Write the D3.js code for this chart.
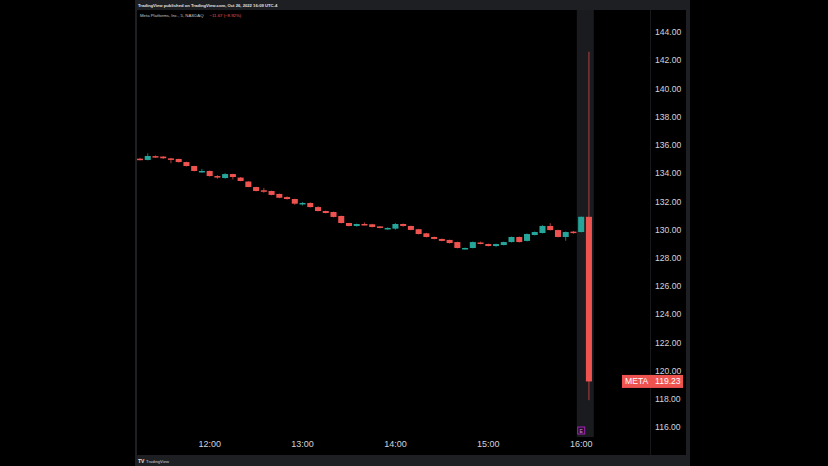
<!DOCTYPE html>
<html><head><meta charset="utf-8">
<script src="https://cdn.jsdelivr.net/npm/d3@7"></script>
<style>html,body{margin:0;padding:0;background:#000;overflow:hidden}svg{display:block}</style>
</head><body>
<svg id="c" width="828" height="466"></svg>
<script>
const times = ["11:15","11:20","11:25","11:30","11:35","11:40","11:45","11:50","11:55",
"12:00","12:05","12:10","12:15","12:20","12:25","12:30","12:35","12:40","12:45","12:50","12:55",
"13:00","13:05","13:10","13:15","13:20","13:25","13:30","13:35","13:40","13:45","13:50","13:55",
"14:00","14:05","14:10","14:15","14:20","14:25","14:30","14:35","14:40","14:45","14:50","14:55",
"15:00","15:05","15:10","15:15","15:20","15:25","15:30","15:35","15:40","15:45","15:50","15:55",
"16:00","16:05"];
const opens  = [135.02,134.93,135.20,135.17,135.04,135.00,134.78,134.50,134.10,134.15,133.79,133.65,133.93,133.68,133.40,133.01,132.78,132.73,132.52,132.30,132.16,131.82,131.88,131.59,131.31,131.24,130.96,130.46,130.25,130.39,130.37,130.22,130.06,130.06,130.39,130.25,130.02,129.73,129.47,129.33,129.26,129.11,128.64,128.69,129.08,128.97,128.83,128.90,129.11,129.47,129.19,129.61,129.75,130.25,129.96,129.47,129.85,129.82,130.90];
const highs  = [135.08,135.40,135.25,135.20,135.08,135.02,134.80,134.52,134.30,134.18,133.85,134.00,133.95,133.72,133.42,133.03,132.95,132.76,132.55,132.35,132.18,131.95,131.92,131.65,131.34,131.27,130.98,130.48,130.42,130.50,130.40,130.25,130.15,130.45,130.42,130.27,130.05,129.76,129.50,129.36,129.28,129.14,128.72,129.15,129.14,129.00,129.00,129.14,129.50,129.50,129.72,129.86,130.30,130.45,129.99,129.86,129.90,130.92,142.60];
const lows   = [134.90,134.90,135.10,135.00,134.70,134.75,134.47,134.12,134.02,133.75,133.60,133.60,133.55,133.42,133.00,132.70,132.60,132.42,132.22,132.12,131.75,131.70,131.56,131.28,131.14,130.86,130.43,130.22,130.20,130.30,130.15,130.08,129.98,129.98,130.20,129.94,129.65,129.44,129.30,129.16,129.00,128.66,128.58,128.66,128.95,128.80,128.75,128.87,129.08,129.08,129.15,129.58,129.72,129.93,129.44,129.20,129.70,129.80,117.90];
const closes = [134.95,135.21,135.14,135.05,134.98,134.78,134.50,134.15,134.15,133.79,133.68,133.93,133.72,133.44,133.01,132.73,132.72,132.45,132.25,132.16,131.83,131.88,131.59,131.31,131.17,130.89,130.46,130.25,130.39,130.33,130.18,130.11,130.11,130.39,130.25,129.97,129.68,129.47,129.33,129.19,129.04,128.69,128.69,129.11,128.99,128.83,128.97,129.11,129.47,129.11,129.68,129.82,130.25,129.96,129.47,129.82,129.78,130.90,119.23];
const priceTicks = [116,118,120,122,124,126,128,130,132,134,136,138,140,142,144];
const timeTicks = ["12:00","13:00","14:00","15:00","16:00"];
const postMarket = ["16:00","16:05"];
const symbol = "META";
const lastPrice = 119.23;
const headerTop = "TradingView published on TradingView.com, Oct 26, 2022 16:09 UTC-4";
const headerName = "Meta Platforms, Inc., 5, NASDAQ";
const headerChange = "\u221211.67 (\u22128.92%)";

const UP = "#26a69a", DOWN = "#ef5350";
const svg = d3.select("#c");
const font = "'Liberation Sans', Arial, sans-serif";

// frame
svg.append("rect").attr("x",135).attr("y",0).attr("width",555).attr("height",466).attr("fill","#1e1f22");
svg.append("rect").attr("x",137).attr("y",10).attr("width",549).attr("height",445).attr("fill","#000");
svg.append("line").attr("x1",650.5).attr("x2",650.5).attr("y1",10).attr("y2",455).attr("stroke","#17181b");

const y = d3.scaleLinear().domain([116,144]).range([427,32]);
const x = d3.scaleBand().domain(times).range([136.13, 592.8]).paddingInner(0.22).paddingOuter(0.11);

const data = times.map((t,i)=>({t,o:opens[i],h:highs[i],l:lows[i],c:closes[i]}));

// post market band
const pmX0 = x(postMarket[0]) - x.step()*x.paddingInner()/2 - 0.5;
const pmX1 = x(postMarket[postMarket.length-1]) + x.bandwidth() + x.step()*x.paddingInner()/2 + 1;
svg.append("rect").attr("x",pmX0).attr("y",10).attr("width",pmX1-pmX0).attr("height",427).attr("fill","#1a1b1e");

const g = svg.append("g");
g.selectAll("line.w").data(data).join("line").attr("class","w")
  .attr("x1",d=>x(d.t)+x.bandwidth()/2).attr("x2",d=>x(d.t)+x.bandwidth()/2)
  .attr("y1",d=>y(d.h)).attr("y2",d=>y(d.l))
  .attr("stroke",d=>d.c>=d.o?UP:DOWN).attr("stroke-width",1).attr("opacity",0.7);
g.selectAll("rect.b").data(data).join("rect").attr("class","b")
  .attr("x",d=>x(d.t)).attr("width",x.bandwidth())
  .attr("y",d=>y(Math.max(d.o,d.c)))
  .attr("height",d=>Math.max(1.5,Math.abs(y(d.o)-y(d.c))))
  .attr("fill",d=>d.c>=d.o?UP:DOWN);

// y axis
const ya = svg.append("g").attr("transform","translate(653,0)")
  .call(d3.axisRight(y).tickValues(priceTicks).tickFormat(d3.format(".2f")).tickSize(0));
ya.select(".domain").remove();
ya.selectAll("text").attr("fill","#d1d4dc").attr("font-size","8.6px").attr("font-family",font).attr("x",2);

// x axis
const xa = svg.append("g").attr("transform","translate(0,437)")
  .call(d3.axisBottom(x).tickValues(timeTicks).tickSize(0));
xa.select(".domain").remove();
xa.selectAll("text").attr("fill","#d1d4dc").attr("font-size","9px").attr("font-family",font).attr("dy","0.5em").attr("y",5);

// earnings marker
const ex = x("16:00")+x.bandwidth()/2;
svg.append("rect").attr("x",ex-3.5).attr("y",427).attr("width",7).attr("height",7).attr("fill","#2a0d36").attr("stroke","#9c27b0").attr("stroke-width",1);
svg.append("text").attr("x",ex).attr("y",433).attr("text-anchor","middle").attr("font-size","5px").attr("fill","#ce93d8").attr("font-family",font).text("E");

// price label
const ly = y(lastPrice);
svg.append("rect").attr("x",622).attr("y",ly-6.5).attr("width",61).attr("height",13).attr("fill",DOWN);
svg.append("text").attr("x",625).attr("y",ly+3).attr("font-size","8.6px").attr("fill","#fff").attr("font-family",font).text(symbol);
svg.append("text").attr("x",655).attr("y",ly+3).attr("font-size","8.6px").attr("fill","#fff").attr("font-family",font).text(d3.format(".2f")(lastPrice));

// header
svg.append("text").attr("x",138).attr("y",6.5).attr("font-size","4.2px").attr("font-weight","bold").attr("fill","#e0e0e0").attr("font-family",font).text(headerTop);
const h2 = svg.append("text").attr("x",140).attr("y",17).attr("font-size","4.3px").attr("fill","#c8c8c8").attr("font-family",font);
h2.append("tspan").text(headerName);
h2.append("tspan").attr("dx",6).attr("fill",DOWN).text(headerChange);

// footer
svg.append("text").attr("x",138).attr("y",462.5).attr("font-size","5px").attr("font-weight","bold").attr("fill","#e0e0e0").attr("font-family",font).text("TV");
svg.append("text").attr("x",146).attr("y",462.5).attr("font-size","4.2px").attr("fill","#cfcfcf").attr("font-family",font).text("TradingView");
</script>
</body></html>
